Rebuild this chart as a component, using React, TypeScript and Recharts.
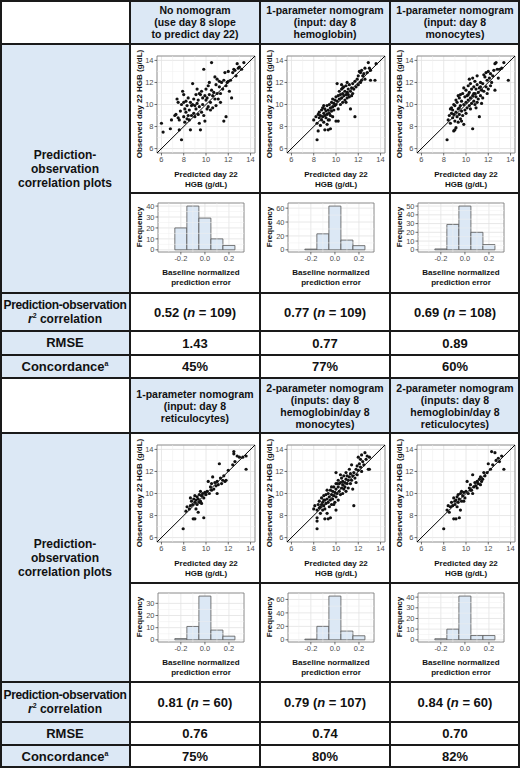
import React from "react"
import {
  ScatterChart,
  Scatter,
  BarChart,
  Bar,
  XAxis,
  YAxis,
  CartesianGrid,
  ReferenceLine,
  ReferenceArea,
} from "recharts"

// ---- scatter data: [predicted day 22 HGB, observed day 22 HGB] ----
const noNomogramPoints = [
  [6.0, 8.3], [6.15, 7.5], [6.8, 7.8], [6.9, 8.6], [7.2, 9.0], [7.3, 9.1], [7.4, 10.5], [7.5, 10.2],
  [7.5, 8.8], [7.6, 7.7], [7.6, 8.6], [7.7, 9.4], [7.8, 6.8], [7.8, 10.0], [7.9, 11.2], [8.0, 10.9],
  [8.0, 8.9], [8.1, 9.6], [8.1, 8.4], [8.2, 9.3], [8.2, 10.3], [8.3, 8.7], [8.3, 9.9], [8.4, 10.6],
  [8.4, 9.0], [8.5, 8.6], [8.5, 9.5], [8.6, 10.2], [8.6, 7.7], [8.7, 9.0], [8.7, 9.9], [8.8, 11.9],
  [8.8, 10.0], [8.9, 9.2], [8.9, 10.5], [9.0, 9.9], [9.0, 8.9], [9.1, 10.9], [9.1, 9.6], [9.2, 10.1],
  [9.2, 11.4], [9.3, 9.1], [9.3, 10.4], [9.4, 8.3], [9.4, 9.8], [9.5, 10.9], [9.5, 7.7], [9.6, 9.3],
  [9.6, 11.2], [9.7, 10.0], [9.7, 10.6], [9.8, 13.2], [9.8, 9.0], [9.9, 8.5], [9.9, 10.8], [10.0, 10.4],
  [10.0, 11.4], [10.1, 9.6], [10.1, 10.6], [10.2, 11.7], [10.2, 9.8], [10.3, 10.9], [10.3, 12.0],
  [10.4, 10.2], [10.5, 13.8], [10.5, 11.3], [10.6, 9.7], [10.6, 10.8], [10.7, 11.1], [10.8, 12.5],
  [10.8, 10.5], [10.9, 11.8], [10.9, 9.9], [11.0, 12.3], [11.0, 11.0], [11.1, 10.5], [11.2, 11.6],
  [11.2, 12.1], [11.3, 11.0], [11.4, 12.0], [11.5, 11.4], [11.6, 8.5], [11.6, 12.2], [11.7, 12.9],
  [11.8, 8.9], [11.8, 11.7], [11.9, 12.0], [12.0, 12.1], [12.0, 13.0], [12.1, 11.2], [12.2, 12.2],
  [12.3, 10.6], [12.4, 12.9], [12.5, 13.2], [12.6, 13.1], [12.7, 12.6], [12.8, 13.7], [12.9, 13.3],
  [13.0, 13.4], [13.2, 13.2], [13.4, 13.8], [9.4, 11.0], [8.0, 10.2], [10.4, 9.5], [11.3, 10.2],
]

const hemoglobinPoints = [
  [8.0, 8.6], [8.2, 8.9], [8.3, 6.8], [8.3, 8.3], [8.4, 9.1], [8.4, 7.6], [8.5, 8.8], [8.5, 9.3],
  [8.6, 8.1], [8.6, 9.0], [8.7, 8.6], [8.7, 9.5], [8.8, 8.9], [8.8, 9.7], [8.9, 9.2], [8.9, 8.4],
  [9.0, 9.6], [9.0, 7.7], [9.0, 9.0], [9.1, 8.8], [9.1, 9.4], [9.2, 9.9], [9.2, 9.1], [9.3, 7.7],
  [9.3, 8.6], [9.3, 9.5], [9.4, 9.2], [9.4, 10.0], [9.5, 7.8], [9.5, 9.7], [9.5, 9.0], [9.6, 9.4],
  [9.6, 10.2], [9.7, 9.8], [9.7, 8.9], [9.8, 10.1], [9.8, 9.5], [9.9, 10.4], [9.9, 9.9], [10.0, 8.5],
  [10.0, 10.0], [10.0, 10.7], [10.1, 11.9], [10.1, 10.3], [10.2, 8.5], [10.2, 9.6], [10.2, 10.8],
  [10.3, 10.5], [10.3, 11.2], [10.4, 10.0], [10.4, 10.9], [10.5, 11.4], [10.5, 10.6], [10.6, 11.0],
  [10.6, 10.2], [10.7, 11.6], [10.7, 10.8], [10.8, 11.2], [10.8, 10.4], [10.9, 10.9], [10.9, 11.7],
  [11.0, 11.1], [11.0, 10.6], [11.1, 11.4], [11.1, 10.9], [11.2, 11.8], [11.2, 10.7], [11.3, 11.2],
  [11.3, 9.6], [11.4, 11.5], [11.5, 11.0], [11.5, 11.9], [11.6, 11.4], [11.7, 8.9], [11.7, 12.1],
  [11.8, 11.6], [11.9, 12.3], [12.0, 12.6], [12.0, 11.8], [12.1, 13.0], [12.2, 12.9], [12.3, 12.2],
  [12.3, 13.1], [12.4, 12.6], [12.5, 12.8], [12.6, 12.3], [12.6, 13.3], [12.8, 12.9], [12.9, 13.8],
  [13.0, 13.3], [13.1, 12.2], [13.1, 13.1], [13.5, 12.2], [13.6, 13.7], [9.7, 10.5], [10.5, 11.8],
  [11.0, 12.0], [8.9, 9.9], [9.4, 8.6], [10.9, 10.2], [11.4, 10.8], [12.2, 12.0], [9.2, 8.2], [10.6, 11.5],
]

const monocytePoints = [
  [8.3, 6.8], [8.4, 8.6], [8.5, 9.0], [8.6, 8.3], [8.7, 9.7], [8.7, 9.2], [8.8, 8.8], [8.8, 9.5],
  [8.9, 7.6], [8.9, 9.1], [9.0, 7.7], [9.0, 8.5], [9.0, 9.9], [9.1, 9.3], [9.1, 7.9], [9.2, 8.9],
  [9.2, 10.2], [9.3, 9.6], [9.3, 8.4], [9.4, 9.1], [9.4, 10.6], [9.5, 9.9], [9.5, 8.7], [9.6, 10.3],
  [9.6, 9.4], [9.7, 11.0], [9.7, 9.0], [9.8, 10.0], [9.8, 8.2], [9.9, 10.7], [9.9, 9.5], [10.0, 10.2],
  [10.0, 11.3], [10.1, 9.7], [10.1, 10.8], [10.2, 11.7], [10.2, 10.4], [10.3, 9.9], [10.3, 11.1],
  [10.4, 11.9], [10.4, 10.6], [10.5, 10.1], [10.5, 11.4], [10.6, 7.8], [10.6, 10.8], [10.7, 11.6],
  [10.7, 10.3], [10.8, 11.0], [10.8, 12.1], [10.9, 10.7], [10.9, 11.4], [11.0, 10.2], [11.0, 11.8],
  [11.1, 11.1], [11.1, 10.5], [11.2, 8.9], [11.2, 11.5], [11.3, 10.8], [11.3, 12.0], [11.4, 11.3],
  [11.5, 10.6], [11.5, 11.9], [11.6, 11.2], [11.7, 12.5], [11.8, 12.9], [11.8, 11.6], [11.9, 12.2],
  [12.0, 13.0], [12.0, 11.4], [12.1, 12.4], [12.2, 12.8], [12.3, 12.0], [12.4, 12.6], [12.5, 13.1],
  [12.6, 11.3], [12.6, 13.7], [12.7, 13.8], [12.8, 13.2], [13.0, 13.2], [13.2, 13.3], [13.4, 13.8],
  [13.8, 12.2], [9.5, 10.9], [10.0, 9.2], [10.6, 12.4], [11.4, 10.1], [8.6, 9.6], [9.8, 11.5],
  [10.9, 9.7], [11.6, 12.7], [9.3, 10.8], [12.2, 11.7], [10.3, 12.3], [8.9, 10.0], [9.6, 8.5],
  [10.4, 9.6], [11.0, 12.6], [9.1, 10.4], [10.7, 11.0], [11.9, 11.0], [12.9, 12.4], [9.4, 9.7],
  [10.2, 10.9], [11.3, 11.6], [10.8, 10.0],
]

const reticulocytePoints = [
  [7.95, 6.8], [8.2, 8.4], [8.3, 8.8], [8.5, 8.6], [8.6, 8.9], [8.6, 9.6], [8.7, 9.3], [8.8, 9.0],
  [8.85, 7.7], [8.9, 9.5], [9.0, 7.7], [9.0, 9.2], [9.0, 9.8], [9.1, 8.6], [9.1, 9.4], [9.2, 9.0],
  [9.2, 9.7], [9.3, 8.3], [9.3, 9.5], [9.4, 9.2], [9.4, 9.9], [9.5, 10.2], [9.5, 9.3], [9.6, 9.1],
  [9.7, 10.0], [9.8, 7.8], [9.8, 9.6], [9.9, 10.1], [10.0, 9.9], [10.1, 10.2], [10.2, 11.1],
  [10.3, 10.0], [10.4, 10.6], [10.5, 10.9], [10.6, 11.5], [10.7, 10.4], [10.8, 11.0], [10.9, 10.7],
  [11.0, 10.0], [11.0, 11.1], [11.1, 10.8], [11.2, 12.7], [11.3, 11.4], [11.4, 10.9], [11.5, 11.2],
  [11.6, 11.6], [11.7, 11.1], [11.8, 11.2], [12.0, 12.1], [12.4, 12.6], [12.5, 13.8], [12.5, 13.6],
  [12.6, 12.9], [12.8, 13.4], [13.0, 13.3], [13.3, 13.3], [13.6, 12.2], [13.6, 13.4], [9.6, 9.8],
  [10.5, 10.3],
]

const hgbMonocytePoints = [
  [8.0, 8.6], [8.1, 8.9], [8.3, 6.8], [8.3, 7.5], [8.3, 7.8], [8.3, 8.5], [8.4, 9.0], [8.5, 8.7],
  [8.5, 9.3], [8.6, 8.8], [8.7, 9.0], [8.7, 9.6], [8.8, 8.5], [8.8, 9.2], [8.9, 9.8], [8.9, 8.9],
  [9.0, 7.7], [9.0, 9.4], [9.0, 8.6], [9.1, 9.1], [9.1, 9.9], [9.2, 8.2], [9.2, 9.5], [9.3, 7.7],
  [9.3, 9.2], [9.3, 10.0], [9.4, 9.7], [9.4, 8.8], [9.5, 7.8], [9.5, 9.4], [9.5, 10.3], [9.6, 9.0],
  [9.6, 9.9], [9.7, 10.2], [9.7, 9.5], [9.8, 10.6], [9.8, 9.8], [9.9, 10.1], [9.9, 9.2], [10.0, 8.5],
  [10.0, 11.9], [10.0, 10.4], [10.0, 9.7], [10.1, 10.9], [10.1, 10.0], [10.2, 10.6], [10.2, 11.2],
  [10.3, 10.2], [10.3, 10.9], [10.4, 11.0], [10.4, 9.9], [10.5, 10.5], [10.5, 11.4], [10.6, 10.8],
  [10.6, 11.1], [10.7, 10.4], [10.7, 11.6], [10.8, 11.0], [10.8, 10.6], [10.9, 11.3], [10.9, 10.2],
  [11.0, 11.6], [11.0, 10.9], [11.1, 11.2], [11.1, 10.5], [11.2, 11.5], [11.3, 10.9], [11.3, 11.8],
  [11.4, 11.2], [11.5, 11.6], [11.5, 10.4], [11.6, 8.9], [11.6, 11.9], [11.7, 11.4], [11.8, 12.2],
  [11.9, 12.5], [11.9, 11.7], [12.0, 13.3], [12.0, 12.1], [12.1, 12.7], [12.2, 12.4], [12.3, 13.5],
  [12.3, 12.0], [12.4, 12.9], [12.5, 12.6], [12.6, 13.7], [12.7, 13.1], [12.8, 13.4], [12.9, 12.2],
  [13.0, 12.2], [13.0, 13.3], [9.6, 10.6], [10.4, 11.7], [11.2, 12.2], [8.6, 8.2], [9.8, 9.0],
  [10.9, 11.9], [11.8, 11.0], [10.2, 9.4], [12.2, 13.1], [9.2, 10.3], [10.6, 10.0], [11.4, 12.6],
  [8.9, 9.4], [10.0, 10.9],
]

const hgbReticulocytePoints = [
  [8.0, 6.8], [8.3, 8.5], [8.4, 8.9], [8.5, 8.3], [8.6, 8.8], [8.7, 9.2], [8.8, 8.9], [8.9, 7.7],
  [8.9, 9.6], [9.0, 9.0], [9.1, 7.7], [9.1, 9.4], [9.2, 9.7], [9.2, 8.8], [9.3, 9.2], [9.3, 9.9],
  [9.4, 7.8], [9.4, 9.5], [9.5, 8.5], [9.5, 10.0], [9.6, 9.3], [9.6, 10.2], [9.7, 9.8], [9.8, 10.1],
  [9.9, 9.6], [10.0, 10.2], [10.1, 11.1], [10.2, 10.0], [10.3, 10.5], [10.4, 10.8], [10.5, 10.3],
  [10.6, 10.0], [10.6, 11.7], [10.7, 10.6], [10.8, 11.0], [10.9, 10.7], [11.0, 11.1], [11.0, 10.5],
  [11.1, 10.9], [11.2, 11.3], [11.3, 11.5], [11.3, 10.8], [11.4, 11.1], [11.5, 11.3], [11.7, 11.6],
  [11.9, 11.9], [12.0, 12.7], [12.2, 12.2], [12.3, 13.8], [12.4, 12.6], [12.6, 13.7], [12.7, 13.0],
  [12.9, 13.2], [13.0, 12.9], [13.2, 13.4], [13.4, 12.2], [9.8, 9.3], [10.4, 10.3], [9.0, 9.3],
  [11.6, 11.9],
]

// ---- histogram data: baseline normalized prediction error ----
const errorBins = [-0.2, -0.1, 0, 0.1, 0.2]
const noNomogramCounts = [20, 40, 29, 10, 4]
const hemoglobinCounts = [1, 23, 63, 14, 6]
const monocyteCounts = [1, 29, 50, 20, 6]
const reticulocyteCounts = [1, 11, 36, 8, 3]
const hgbMonocyteCounts = [1, 20, 65, 13, 6]
const hgbReticulocyteCounts = [1, 10, 41, 4, 4]

const freqTicks40 = [0, 10, 20, 30, 40]
const freqTicks60 = [0, 20, 40, 60]
const freqTicks50 = [0, 10, 20, 30, 40, 50]
const freqTicks30 = [0, 10, 20, 30]

// ---- axis ticks ----
const hgbTicks = [6, 8, 10, 12, 14]
const hgbMinor = [7, 9, 11, 13]
const hgbDomain = [5.6, 14.4]
const errorTicks = [-0.2, 0, 0.2]
const errorMinor = [-0.3, -0.1, 0.1, 0.3]
const errorDomain = [-0.39, 0.325]

// ---- table text ----
const topHeaders = [
  ["No nomogram", "(use day 8 slope", "to predict day 22)"],
  ["1-parameter nomogram", "(input: day 8", "hemoglobin)"],
  ["1-parameter nomogram", "(input: day 8", "monocytes)"],
]
const bottomHeaders = [
  ["1-parameter nomogram", "(input: day 8", "reticulocytes)"],
  ["2-parameter nomogram", "(inputs: day 8", "hemoglobin/day 8", "monocytes)"],
  ["2-parameter nomogram", "(inputs: day 8", "hemoglobin/day 8", "reticulocytes)"],
]
const topR2 = ["0.52", "0.77", "0.69"]
const topN = [109, 109, 108]
const bottomR2 = ["0.81", "0.79", "0.84"]
const bottomN = [60, 107, 60]
const topRmse = ["1.43", "0.77", "0.89"]
const bottomRmse = ["0.76", "0.74", "0.70"]
const topConcordance = ["45%", "77%", "60%"]
const bottomConcordance = ["75%", "80%", "82%"]

const BLUE = "#dce8f5"
const FONT = "'Liberation Sans', Arial, sans-serif"
const COLS = [0, 130, 260, 390, 520]
const TICK = { fontSize: 7.5, fill: "#4d4d4d", fontFamily: FONT }
const TICK_LINE = { stroke: "#333", strokeWidth: 0.7 }

function Dot(props: any) {
  const { cx, cy } = props
  if (cx == null || cy == null) return null
  return <circle cx={cx} cy={cy} r={1.6} fill="#111" />
}

function Title({ x, y, lines, rotate }: { x: number; y: number; lines: string[]; rotate?: boolean }) {
  return (
    <div
      style={{
        position: "absolute",
        left: x,
        top: y,
        transform: `translate(-50%, -50%)${rotate ? " rotate(-90deg)" : ""}`,
        fontSize: 8,
        fontWeight: 700,
        lineHeight: "9.5px",
        textAlign: "center",
        whiteSpace: "nowrap",
        color: "#111",
      }}
    >
      {lines.map((l) => (
        <div key={l}>{l}</div>
      ))}
    </div>
  )
}

function ScatterPanel({ points }: { points: number[][] }) {
  const data = points.map(([x, y]) => ({ x, y }))
  return (
    <>
      <div style={{ position: "absolute", left: 0, top: 0 }}>
        <ScatterChart width={130} height={124} margin={{ top: 12, right: 5, bottom: 0, left: 0 }}>
          <CartesianGrid stroke="#e2e2e2" strokeWidth={0.8} />
          {hgbMinor.map((v) => (
            <ReferenceLine key={"x" + v} x={v} stroke="#eeeeee" strokeWidth={0.5} />
          ))}
          {hgbMinor.map((v) => (
            <ReferenceLine key={"y" + v} y={v} stroke="#eeeeee" strokeWidth={0.5} />
          ))}
          <XAxis
            type="number"
            dataKey="x"
            domain={hgbDomain}
            ticks={hgbTicks}
            interval={0}
            height={15}
            axisLine={false}
            tickSize={2.5}
            tickMargin={1}
            tickLine={TICK_LINE}
            tick={TICK}
          />
          <YAxis
            type="number"
            dataKey="y"
            domain={hgbDomain}
            ticks={hgbTicks}
            interval={0}
            width={27}
            axisLine={false}
            tickSize={2.5}
            tickMargin={1}
            tickLine={TICK_LINE}
            tick={TICK}
          />
          <ReferenceLine
            segment={[
              { x: hgbDomain[0], y: hgbDomain[0] },
              { x: hgbDomain[1], y: hgbDomain[1] },
            ]}
            stroke="#000"
            strokeWidth={1}
          />
          <Scatter data={data} shape={Dot} isAnimationActive={false} />
          <ReferenceArea
            x1={hgbDomain[0]}
            x2={hgbDomain[1]}
            y1={hgbDomain[0]}
            y2={hgbDomain[1]}
            fill="none"
            stroke="#7f7f7f"
            strokeWidth={0.8}
          />
        </ScatterChart>
      </div>
      <Title x={10} y={60} lines={["Observed day 22 HGB (g/dL)"]} rotate />
      <Title x={76} y={135} lines={["Predicted day 22", "HGB (g/dL)"]} />
    </>
  )
}

function HistPanel({ counts, ticks }: { counts: number[]; ticks: number[] }) {
  const data = errorBins.map((bin, i) => ({ bin, count: counts[i] }))
  const top = Math.max(...counts)
  const plotWidth = 130 - 16 - 28
  const barSize = Math.round((plotWidth * 0.1) / (errorDomain[1] - errorDomain[0]))
  const yDomain = [-0.05 * top, 1.07 * top]
  const yMinor = ticks.slice(1).map((t, i) => (t + ticks[i]) / 2)
  return (
    <>
      <div style={{ position: "absolute", left: 0, top: 0 }}>
        <BarChart
          width={130}
          height={72}
          data={data}
          barCategoryGap={0}
          margin={{ top: 10, right: 16, bottom: 0, left: 0 }}
        >
          <CartesianGrid stroke="#e2e2e2" strokeWidth={0.8} />
          {errorMinor.map((v) => (
            <ReferenceLine key={"x" + v} x={v} stroke="#eeeeee" strokeWidth={0.5} />
          ))}
          {yMinor.map((v) => (
            <ReferenceLine key={"y" + v} y={v} stroke="#eeeeee" strokeWidth={0.5} />
          ))}
          <XAxis
            type="number"
            dataKey="bin"
            domain={errorDomain}
            ticks={errorTicks}
            interval={0}
            height={13}
            axisLine={false}
            tickSize={2.5}
            tickMargin={1}
            tickLine={TICK_LINE}
            tick={TICK}
            tickFormatter={(v: number) => v.toFixed(1)}
          />
          <YAxis
            type="number"
            domain={yDomain}
            ticks={ticks}
            interval={0}
            width={28}
            axisLine={false}
            tickSize={2.5}
            tickMargin={1}
            tickLine={TICK_LINE}
            tick={TICK}
          />
          <Bar
            dataKey="count"
            barSize={barSize}
            fill={BLUE}
            stroke="#555"
            strokeWidth={0.8}
            isAnimationActive={false}
          />
          <ReferenceArea
            x1={errorDomain[0]}
            x2={errorDomain[1]}
            y1={yDomain[0]}
            y2={yDomain[1]}
            fill="none"
            stroke="#7f7f7f"
            strokeWidth={0.8}
          />
        </BarChart>
      </div>
      <Title x={10} y={34} lines={["Frequency"]} rotate />
      <Title x={71} y={84} lines={["Baseline normalized", "prediction error"]} />
    </>
  )
}

function Cell({
  col,
  top,
  bottom,
  bg,
  children,
  center = true,
  span = 1,
}: {
  col: number
  top: number
  bottom: number
  bg?: string
  children?: React.ReactNode
  center?: boolean
  span?: number
}) {
  return (
    <div
      style={{
        position: "absolute",
        left: COLS[col],
        top,
        width: COLS[col + span] - COLS[col],
        height: bottom - top,
        background: bg || "#fff",
        display: center ? "flex" : "block",
        alignItems: "center",
        justifyContent: "center",
        textAlign: "center",
      }}
    >
      {children}
    </div>
  )
}

function Section({
  rows,
  headers,
  scatters,
  hists,
  r2,
  n,
  rmse,
  concordance,
}: {
  rows: number[]
  headers: string[][]
  scatters: number[][][]
  hists: { counts: number[]; ticks: number[] }[]
  r2: string[]
  n: number[]
  rmse: string[]
  concordance: string[]
}) {
  const [h0, s0, g0, r0, m0, c0, end] = rows
  const label = { fontSize: 12, fontWeight: 700, lineHeight: "14px", color: "#111" }
  const value = { fontSize: 13, fontWeight: 700, color: "#111" }
  return (
    <>
      <Cell col={0} top={h0} bottom={s0} />
      <Cell col={0} top={s0} bottom={r0} bg={BLUE}>
        <div style={label}>
          Prediction-
          <br />
          observation
          <br />
          correlation plots
        </div>
      </Cell>
      <Cell col={0} top={r0} bottom={m0} bg={BLUE}>
        <div style={label}>
          <div style={{ letterSpacing: -0.35 }}>Prediction-observation</div>
          <div>
            <i>r</i>
            <sup style={{ fontSize: 7, verticalAlign: 5, lineHeight: 0 }}>2</sup> correlation
          </div>
        </div>
      </Cell>
      <Cell col={0} top={m0} bottom={c0} bg={BLUE}>
        <div style={{ ...label, fontSize: 13 }}>RMSE</div>
      </Cell>
      <Cell col={0} top={c0} bottom={end} bg={BLUE}>
        <div style={{ ...label, fontSize: 13 }}>
          Concordance
          <sup style={{ fontSize: 7, verticalAlign: 5, lineHeight: 0 }}>a</sup>
        </div>
      </Cell>
      {[0, 1, 2].map((i) => (
        <React.Fragment key={i}>
          <Cell col={i + 1} top={h0} bottom={s0} bg={BLUE}>
            <div style={{ fontSize: 10.5, fontWeight: 700, lineHeight: "12px", color: "#111" }}>
              {headers[i].map((l) => (
                <div key={l}>{l}</div>
              ))}
            </div>
          </Cell>
          <Cell col={i + 1} top={s0} bottom={g0} center={false}>
            <ScatterPanel points={scatters[i]} />
          </Cell>
          <Cell col={i + 1} top={g0} bottom={r0} center={false}>
            <HistPanel counts={hists[i].counts} ticks={hists[i].ticks} />
          </Cell>
          <Cell col={i + 1} top={r0} bottom={m0}>
            <div style={value}>
              {r2[i]} (<i>n</i> = {n[i]})
            </div>
          </Cell>
          <Cell col={i + 1} top={m0} bottom={c0}>
            <div style={value}>{rmse[i]}</div>
          </Cell>
          <Cell col={i + 1} top={c0} bottom={end}>
            <div style={value}>{concordance[i]}</div>
          </Cell>
        </React.Fragment>
      ))}
    </>
  )
}

const TOP_ROWS = [0, 44, 193, 293, 331, 355, 378]
const BOTTOM_ROWS = [378, 433, 583, 682, 722, 745, 768]

function Lines() {
  const hs: { y: number; x0: number }[] = []
  ;[TOP_ROWS, BOTTOM_ROWS].forEach((rows) => {
    rows.forEach((y, i) => hs.push({ y, x0: i === 2 ? 130 : 0 }))
  })
  return (
    <>
      {hs.map((h, i) => (
        <div
          key={"h" + i}
          style={{
            position: "absolute",
            left: h.x0,
            width: 520 - h.x0,
            top: Math.min(Math.max(h.y - 1, 0), 766),
            height: 2,
            background: "#1a1a1a",
          }}
        />
      ))}
      {COLS.map((x, i) => (
        <div
          key={"v" + i}
          style={{
            position: "absolute",
            top: 0,
            height: 768,
            left: Math.min(Math.max(x - 1, 0), 518),
            width: 2,
            background: "#1a1a1a",
          }}
        />
      ))}
    </>
  )
}

export default function App() {
  return (
    <div
      style={{
        position: "relative",
        width: 520,
        height: 768,
        fontFamily: FONT,
        background: "#fff",
        overflow: "hidden",
      }}
    >
      <style>{"body{margin:0}"}</style>
      <Section
        rows={TOP_ROWS}
        headers={topHeaders}
        scatters={[noNomogramPoints, hemoglobinPoints, monocytePoints]}
        hists={[
          { counts: noNomogramCounts, ticks: freqTicks40 },
          { counts: hemoglobinCounts, ticks: freqTicks60 },
          { counts: monocyteCounts, ticks: freqTicks50 },
        ]}
        r2={topR2}
        n={topN}
        rmse={topRmse}
        concordance={topConcordance}
      />
      <Section
        rows={BOTTOM_ROWS}
        headers={bottomHeaders}
        scatters={[reticulocytePoints, hgbMonocytePoints, hgbReticulocytePoints]}
        hists={[
          { counts: reticulocyteCounts, ticks: freqTicks30 },
          { counts: hgbMonocyteCounts, ticks: freqTicks60 },
          { counts: hgbReticulocyteCounts, ticks: freqTicks40 },
        ]}
        r2={bottomR2}
        n={bottomN}
        rmse={bottomRmse}
        concordance={bottomConcordance}
      />
      <Lines />
    </div>
  )
}
